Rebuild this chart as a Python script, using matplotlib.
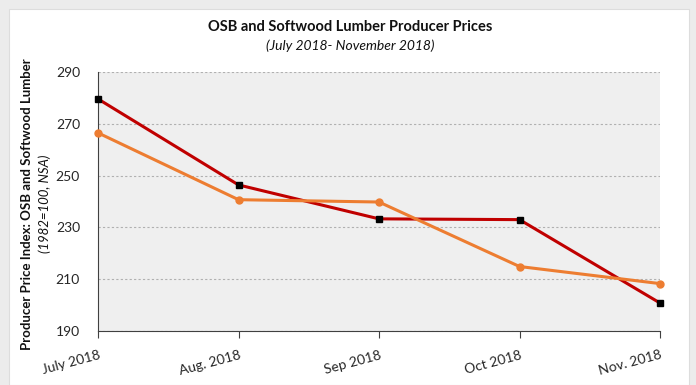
import matplotlib.pyplot as plt
from matplotlib.patches import Rectangle

months = ["July 2018", "Aug. 2018", "Sep 2018", "Oct 2018", "Nov. 2018"]
osb = [279.6, 246.4, 233.3, 233.0, 200.8]
lumber = [266.5, 240.7, 239.8, 214.9, 208.3]
yticks = [190, 210, 230, 250, 270, 290]

plt.rcParams['font.family'] = ['Lato', 'DejaVu Sans']

fig = plt.figure(figsize=(6.96, 3.85), dpi=100)
fig.patch.set_facecolor("#ececec")
# white card behind the chart
fig.add_artist(Rectangle((9 / 696, 0), 680 / 696, 1 - 9 / 385,
                         transform=fig.transFigure, facecolor="white",
                         edgecolor="#dddddd", lw=0.8, zorder=0))

ax = fig.add_axes([98 / 696, 1 - 331 / 385, 562 / 696, 259 / 385])
ax.set_facecolor("#efefef")
x = range(len(months))
ax.plot(x, osb, color="#c00000", lw=2.2, marker="s", ms=5,
        mfc="black", mec="black", zorder=3, clip_on=False)
ax.plot(x, lumber, color="#ed7d31", lw=2.2, marker="o", ms=5,
        mfc="#ed7d31", mec="#ed7d31", zorder=3, clip_on=False)

ax.set_xlim(0, len(months) - 1)
ax.set_ylim(190, 290)
ax.set_yticks(yticks)
ax.yaxis.grid(True, linestyle=(0, (2, 2)), color="#b0b0b0", lw=0.8)
ax.set_axisbelow(True)
for s in ["top", "right"]:
    ax.spines[s].set_visible(False)
ax.spines["left"].set_color("#404040")
ax.spines["bottom"].set_color("#404040")
ax.tick_params(axis="y", length=0, labelsize=10, colors="#262626", pad=13)
ax.tick_params(axis="x", length=5, color="#404040", labelsize=10,
               colors="#262626", pad=8)
ax.set_xticks(list(x))
ax.set_xticklabels(months, rotation=15, ha="right", rotation_mode="anchor")

fig.text(0.503, 1 - 27 / 385, "OSB and Softwood Lumber Producer Prices",
         ha="center", va="center", fontsize=10.5, fontweight="bold", color="#111111")
fig.text(0.503, 1 - 46 / 385, "(July 2018- November 2018)",
         ha="center", va="center", fontsize=10, style="italic", color="#111111")
fig.text(27 / 696, 1 - 204 / 385, "Producer Price Index: OSB and Softwood Lumber",
         rotation=90, ha="center", va="center", fontsize=9.5,
         fontweight="bold", color="#111111")
fig.text(45 / 696, 1 - 204 / 385, "(1982=100, NSA)",
         rotation=90, ha="center", va="center", fontsize=9.5,
         style="italic", color="#111111")

fig.savefig("out.png", dpi=100)
